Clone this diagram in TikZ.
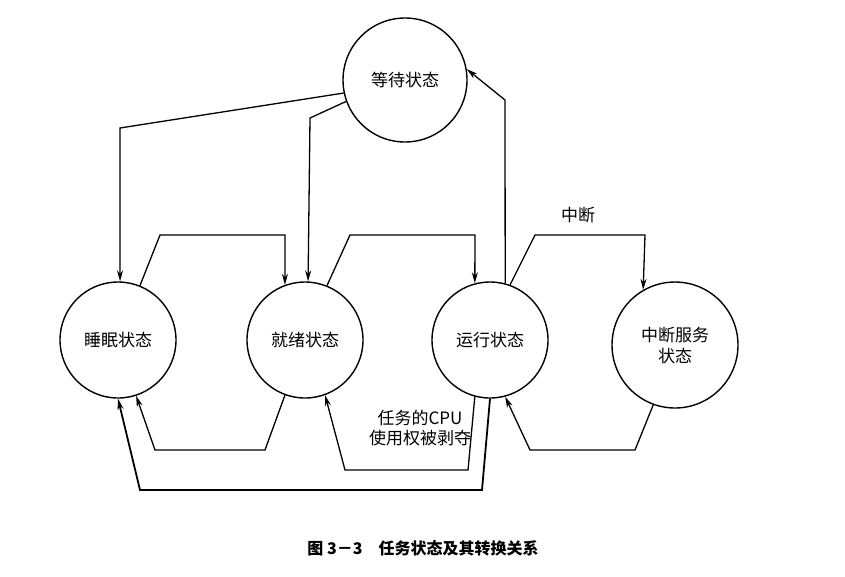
\documentclass[tikz,border=0pt]{standalone}
\usepackage{fontspec}
\newfontfamily\cjk{Noto Sans CJK SC}
\usetikzlibrary{arrows.meta}
\begin{document}
\begin{tikzpicture}[x=1pt,y=-1pt,
  st/.style={circle,draw,line width=1.4pt,minimum size=116pt,inner sep=0pt,font=\cjk\fontsize{17}{21}\selectfont,align=center},
  ar/.style={draw,line width=1.3pt,-{Stealth[length=11pt,width=6pt]}},
  lb/.style={font=\cjk\fontsize{17}{21}\selectfont,align=center}]
\useasboundingbox (0,0) rectangle (845,576);
\node[st,minimum size=124pt] (wait) at (405,80) {等待状态};
\node[st] (sleep) at (118,340) {睡眠状态};
\node[st] (ready) at (305,340) {就绪状态};
\node[st] (run) at (490,340) {运行状态};
\node[st,minimum size=126pt] (isr) at (675,345) {中断服务\\状态};
% from wait
\draw[ar] (wait.192) -- (120,128) -- (sleep.88);
\draw[ar] (wait.200) -- (310,118) -- (ready.87);
\draw[ar] (run.75) -- (505,100) -- (wait.10);
% top transitions
\draw[ar] (sleep.68) -- (160,235) -- (285,235) -- (ready.110);
\draw[ar] (ready.68) -- (350,235) -- (475,235) -- (run.105);
\draw[ar] (run.70) -- (535,235) -- (645,235) -- (isr.120);
\node[lb] (lint) at (578,215) {中断};
% bottom transitions
\draw[ar] (ready.-110) -- (265,450) -- (155,450) -- (sleep.-72);
\draw[ar] (run.-105) -- (468,470) -- (345,470) -- (ready.-70);
\draw[ar,line width=1.8pt] (run.-90) -- (482,490) -- (140,490) -- (sleep.-90);
\draw[ar] (isr.-110) -- (635,450) -- (530,450) -- (run.-75);
\node[lb,font=\cjk\fontsize{17}{20}\selectfont] (lcpu) at (420,428) {任务的CPU\\使用权被剥夺};
\node[font=\cjk\bfseries\fontsize{16}{19}\selectfont] (cap) at (423,548) {图 3－3\quad 任务状态及其转换关系};
\end{tikzpicture}
\end{document}
